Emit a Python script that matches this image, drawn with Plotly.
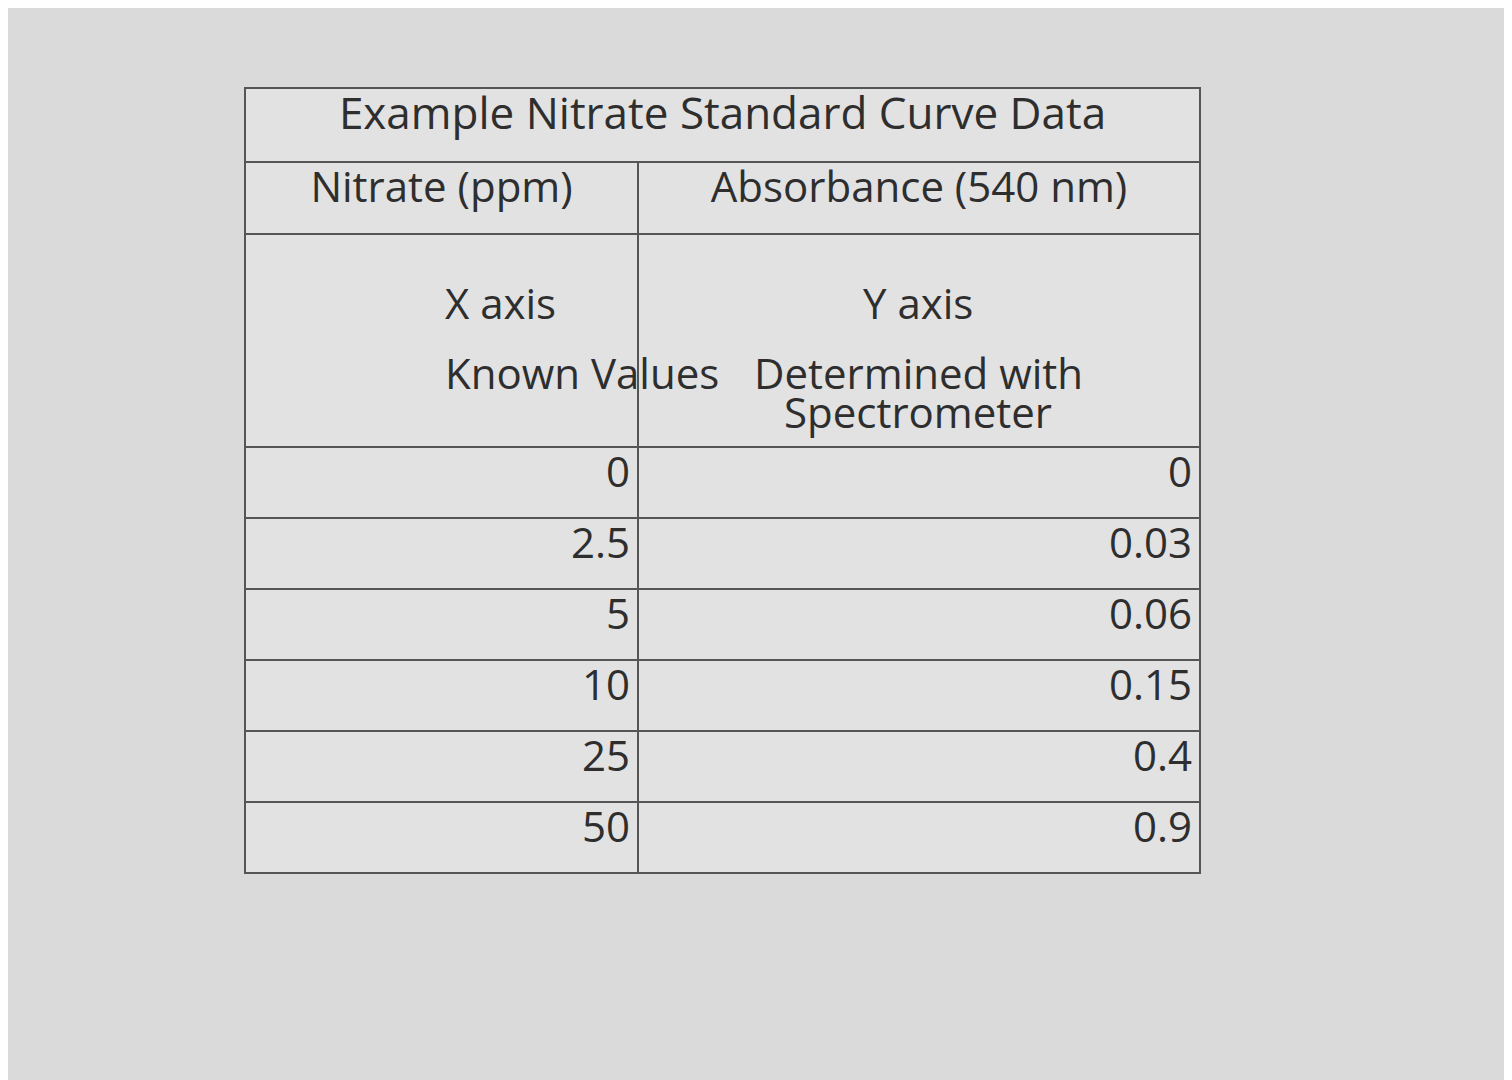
import plotly.graph_objects as go

title = "Example Nitrate Standard Curve Data"
col_headers = ["Nitrate (ppm)", "Absorbance (540 nm)"]
desc_x = ["X axis", "Known Values"]
desc_y = ["Y axis", "Determined with", "Spectrometer"]
nitrate = ["0", "2.5", "5", "10", "25", "50"]
absorb = ["0", "0.03", "0.06", "0.15", "0.4", "0.9"]

W, H = 1512, 1080
OFF = 8
x0, x1 = (245 - OFF) / W, (1200 - OFF) / W
def yd(top, bot):
    return [1 - (bot - OFF) / H, 1 - (top - OFF) / H]

font = dict(family="Open Sans, Noto Sans, sans-serif", size=42, color="#2e2e2e")
cellfill = "#e2e2e2"
line = dict(color="#555555", width=2)
cw = [393, 562]

fig = go.Figure()
fig.add_trace(go.Table(
    domain=dict(x=[x0, x1], y=yd(88, 162)),
    header=dict(values=[title], height=74, align="center", fill_color=cellfill, line=line,
                font=dict(family=font["family"], size=44, color="#2e2e2e")),
))
fig.add_trace(go.Table(
    domain=dict(x=[x0, x1], y=yd(162, 450)),
    columnwidth=cw,
    header=dict(values=col_headers, height=72, align="center", fill_color=cellfill, line=line, font=font),
    cells=dict(values=[[""], [""]], height=213, align="center", fill_color=cellfill, line=line, font=font),
))
fig.add_trace(go.Table(
    domain=dict(x=[x0, x1], y=yd(447, 880)),
    columnwidth=cw,
    header=dict(values=[nitrate[0], absorb[0]], height=71, align="right", fill_color=cellfill, line=line, font=font),
    cells=dict(values=[nitrate[1:], absorb[1:]], height=71, align="right", fill_color=cellfill, line=line, font=font),
))
for i, t in enumerate(desc_x):
    fig.add_annotation(x=(443 - OFF) / W, y=1 - (272 + 70 * i - OFF) / H, xref="paper", yref="paper",
                       text=t, showarrow=False, font=font)
for i, t in enumerate(desc_y):
    fig.add_annotation(x=(918 - OFF) / W, y=1 - (272 + 70 * i - OFF) / H, xref="paper", yref="paper",
                       text=t, showarrow=False, font=font)
fig.update_layout(width=W, height=H, margin=dict(l=0, r=0, t=0, b=0),
                  paper_bgcolor="#dadada", showlegend=False)
fig.write_html("out.html")
